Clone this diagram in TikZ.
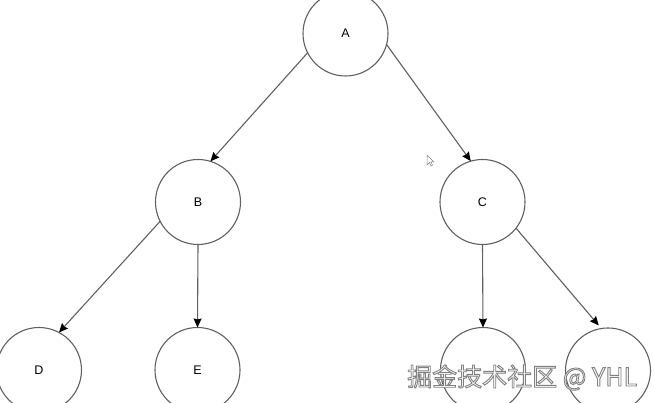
\documentclass[tikz,border=0pt]{standalone}
\usepackage{fontspec}
\setmainfont{Liberation Sans}
\newfontfamily\cjk{Noto Sans CJK SC}
\usetikzlibrary{arrows.meta}
\definecolor{edgegray}{HTML}{606060}
\newcommand{\outlinetext}[1]{{\color{white}\special{pdf:literal direct 2 Tr 0.9 w 0.5 G}#1\special{pdf:literal direct 0 Tr}}}
\begin{document}
\begin{tikzpicture}[x=1pt,y=1pt,
  treenode/.style={circle,draw=edgegray,line width=1.1pt,minimum size=85pt,inner sep=0pt,outer sep=0pt,font=\fontsize{12.5}{14}\selectfont},
  edge/.style={draw=edgegray,line width=1.1pt,-{Stealth[length=9pt,width=8pt,inset=1pt,color=black]}},
  wm/.style={font=\cjk\fontsize{25}{30}\selectfont,anchor=base west,inner sep=0pt}
]
\useasboundingbox (0,0) rectangle (654,403);
\node[treenode] (A) at (345.5,369.5) {A};
\node[treenode] (B) at (198,201) {B};
\node[treenode] (C) at (482.5,201) {C};
\node[treenode] (D) at (39,33) {D};
\node[treenode] (E) at (197.5,33) {E};
\node[treenode] (F) at (483,33) {};
\node[treenode] (G) at (608,32.5) {};
\draw[edge] (A.207) -- (B.73);
\draw[edge] (A.-15) -- (C.106);
\draw[edge] (B.207) -- (D.62);
\draw[edge] (B.south) -- (E.north);
\draw[edge] (C.south) -- (F.north);
\draw[edge,shorten >=4pt] (C.-38) -- (G.99);
% mouse cursor
\draw[gray,line width=0.5pt,fill=white] (427,248) -- (427,238) -- (429.5,240.5) -- (431,237) -- (432.5,237.8) -- (431,241) -- (434,241) -- cycle;
% watermark
\node[wm] (wmk) at (407,17) {\outlinetext{掘金技术社区 @ YHL}};
\end{tikzpicture}
\end{document}
